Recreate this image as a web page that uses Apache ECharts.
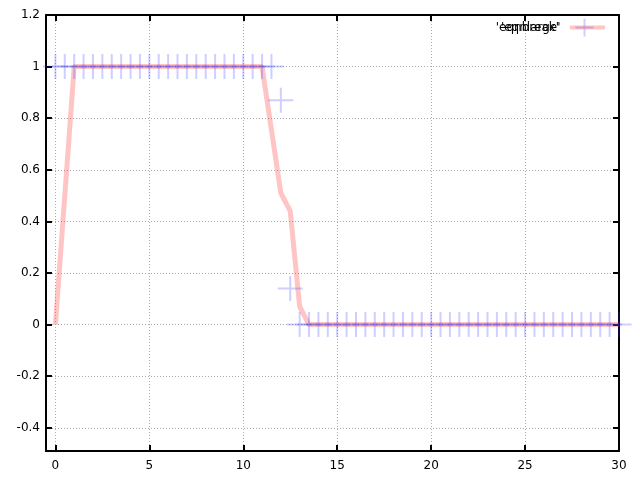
<!DOCTYPE html>
<html>
<head>
<meta charset="utf-8">
<script src="https://cdn.jsdelivr.net/npm/echarts@6/dist/echarts.min.js"></script>
<style>
  html, body { margin: 0; padding: 0; background: #fff; }
  #chart { width: 640px; height: 480px; }
</style>
</head>
<body>
<div id="chart"></div>
<script>
// tick labels
var xTicks = [0, 5, 10, 15, 20, 25, 30]
var yTicks = [-0.4, -0.2, 0, 0.2, 0.4, 0.6, 0.8, 1, 1.2]

// red line ('eqnbreak')
var lineX = [0, 1, 11, 12, 12.5, 13, 13.5, 30]
var lineY = [0, 1, 1, 0.51, 0.44, 0.07, 0, 0]

// blue crosses ('eqnlarge'), sampled every 0.5
var crossX = [0, 0.5, 1, 1.5, 2, 2.5, 3, 3.5, 4, 4.5, 5, 5.5, 6, 6.5, 7, 7.5, 8, 8.5, 9, 9.5,
  10, 10.5, 11, 11.5, 12, 12.5, 13, 13.5, 14, 14.5, 15, 15.5, 16, 16.5, 17, 17.5, 18, 18.5, 19, 19.5,
  20, 20.5, 21, 21.5, 22, 22.5, 23, 23.5, 24, 24.5, 25, 25.5, 26, 26.5, 27, 27.5, 28, 28.5, 29, 29.5, 30]
var crossY = [1, 1, 1, 1, 1, 1, 1, 1, 1, 1, 1, 1, 1, 1, 1, 1, 1, 1, 1, 1,
  1, 1, 1, 1, 0.87, 0.14, 0, 0, 0, 0, 0, 0, 0, 0, 0, 0, 0, 0, 0, 0,
  0, 0, 0, 0, 0, 0, 0, 0, 0, 0, 0, 0, 0, 0, 0, 0, 0, 0, 0, 0, 0]

var names = ["'eqnbreak'", "'eqnlarge'"]

var font = 'DejaVu Sans'
var plusPath = 'path://M0,5L10,5M5,0L5,10'
var crossColor = 'rgba(40, 40, 255, 0.28)'
var lineColor = 'rgba(255, 60, 60, 0.3)'

function pairs (xs, ys) {
  var out = []
  for (var i = 0; i < xs.length; i++) out.push([xs[i], ys[i]])
  return out
}

function fmt (v) {
  return String(Math.round(v * 10) / 10)
}

var frame = { show: true, onZero: false, lineStyle: { color: '#000', width: 2 } }
var grid = { show: true, lineStyle: { color: '#aaa', type: [1, 2], width: 1 } }
var tickStyle = { color: '#000', width: 2 }

var chart = echarts.init(document.getElementById('chart'))

var option = {
  animation: false,
  backgroundColor: '#fff',
  grid: { left: 46, right: 21, top: 15, bottom: 29 },
  legend: [
    {
      data: [{ name: names[0], icon: 'rect' }],
      right: 35, top: 10,
      align: 'right',
      itemWidth: 35, itemHeight: 4,
      padding: [5, 0, 0, 0],
      textStyle: { fontFamily: font, fontSize: 12, lineHeight: 25, color: '#000', padding: [0, 6, 0, 0] }
    },
    {
      data: [{ name: names[1], icon: plusPath }],
      right: 44, top: 10,
      align: 'right',
      itemWidth: 18, itemHeight: 25,
      padding: [5, 0, 0, 0],
      textStyle: { fontFamily: font, fontSize: 12, lineHeight: 25, color: '#000', padding: [0, 10, 0, 0] }
    }
  ],
  xAxis: [
    {
      type: 'value', min: -0.5, max: 30,
      axisLine: frame,
      axisTick: { show: true, inside: true, length: 6, customValues: xTicks, lineStyle: tickStyle },
      axisLabel: { customValues: xTicks, formatter: fmt, margin: 9, fontFamily: font, fontSize: 12, color: '#000' },
      splitLine: grid
    },
    {
      type: 'value', position: 'top', min: -0.5, max: 30,
      axisLine: frame,
      axisTick: { show: true, inside: true, length: 6, customValues: xTicks, lineStyle: tickStyle },
      axisLabel: { show: false },
      splitLine: { show: false }
    }
  ],
  yAxis: [
    {
      type: 'value', min: -0.49, max: 1.2,
      axisLine: frame,
      axisTick: { show: true, inside: true, length: 6, customValues: yTicks, lineStyle: tickStyle },
      axisLabel: { customValues: yTicks, formatter: fmt, margin: 6, fontFamily: font, fontSize: 12, color: '#000' },
      splitLine: grid
    },
    {
      type: 'value', position: 'right', min: -0.49, max: 1.2,
      axisLine: frame,
      axisTick: { show: true, inside: true, length: 6, customValues: yTicks, lineStyle: tickStyle },
      axisLabel: { show: false },
      splitLine: { show: false }
    }
  ],
  series: [
    {
      name: names[0],
      type: 'line',
      showSymbol: false,
      symbol: 'none',
      lineStyle: { color: lineColor, width: 5 },
      itemStyle: { color: lineColor },
      data: pairs(lineX, lineY),
      z: 2
    },
    {
      name: names[1],
      type: 'scatter',
      symbol: plusPath,
      symbolSize: 25,
      itemStyle: { color: 'none', borderColor: crossColor, borderWidth: 2 },
      data: pairs(crossX, crossY),
      z: 3
    }
  ]
}

chart.setOption(option)
</script>
</body>
</html>
